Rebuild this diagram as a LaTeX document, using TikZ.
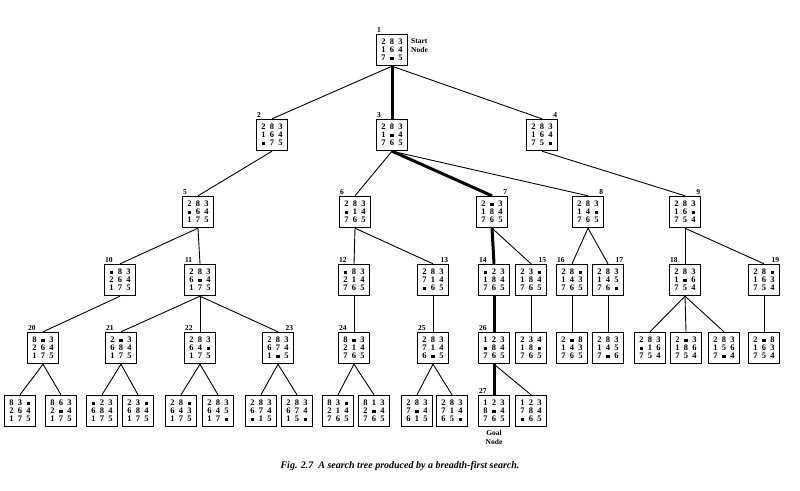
\documentclass[tikz,border=0pt]{standalone}
\usepackage{fontspec}
\setmainfont{Liberation Serif}
\newcommand\bk{\rule[0.5pt]{3.5pt}{3.5pt}}
\newcommand\cl[1]{\makebox[8.5pt]{#1}}
\newcommand\pz[9]{\cl{#1}\cl{#2}\cl{#3}\\[-1pt]\cl{#4}\cl{#5}\cl{#6}\\[-1pt]\cl{#7}\cl{#8}\cl{#9}}
\begin{document}
\begin{tikzpicture}[x=1pt,y=-1pt,
  box/.style={draw,line width=1.4pt,minimum size=31pt,inner sep=0pt,align=center,font=\bfseries\fontsize{8.5}{9}\selectfont},
  lab/.style={font=\bfseries\fontsize{7.5}{9}\selectfont,inner sep=1pt},
  L/.style={label={[lab,anchor=south west]north west:#1}},
  R/.style={label={[lab,anchor=south east]north east:#1}},
  e/.style={line width=0.9pt},
  th/.style={line width=3pt}]
\useasboundingbox (0,0) rectangle (800,490);
\node[box,L=1] (n1) at (392,50) {\pz283164 7\bk5};
\node[lab,anchor=west,align=left] (st) at (410,46) {Start\\Node};
\node[box,L=2] (n2) at (272,135) {\pz283164\bk75};
\node[box,L=3] (n3) at (392,135) {\pz2831\bk4765};
\node[box,R=4] (n4) at (542,135) {\pz28316475\bk};
\node[box,L=5] (n5) at (198,212) {\pz283\bk64175};
\node[box,L=6] (n6) at (355,212) {\pz283\bk14765};
\node[box,R=7] (n7) at (492,212) {\pz2\bk3184765};
\node[box,R=8] (n8) at (588,212) {\pz28314\bk765};
\node[box,R=9] (n9) at (685,212) {\pz28316\bk754};
\node[box,L=10] (n10) at (120,280) {\pz\bk83264175};
\node[box,L=11] (n11) at (200,280) {\pz2836\bk4175};
\node[box,L=12] (n12) at (354,280) {\pz\bk83214765};
\node[box,R=13] (n13) at (433,280) {\pz283714\bk65};
\node[box,L=14] (n14) at (494,280) {\pz\bk23184765};
\node[box,R=15] (n15) at (531,280) {\pz23\bk184765};
\node[box,L=16] (n16) at (572,280) {\pz28\bk143765};
\node[box,R=17] (n17) at (608,280) {\pz28314576\bk};
\node[box,L=18] (n18) at (685,280) {\pz2831\bk6754};
\node[box,R=19] (n19) at (764,280) {\pz28\bk163754};
\node[box,L=20] (n20) at (43,348) {\pz8\bk3264175};
\node[box,L=21] (n21) at (121,348) {\pz2\bk3684175};
\node[box,L=22] (n22) at (200,348) {\pz28364\bk175};
\node[box,R=23] (n23) at (278,348) {\pz2836741\bk5};
\node[box,L=24] (n24) at (354,348) {\pz8\bk3214765};
\node[box,L=25] (n25) at (433,348) {\pz2837146\bk5};
\node[box,L=26] (n26) at (494,348) {\pz123\bk84765};
\node[box] (c15) at (531,348) {\pz23418\bk765};
\node[box] (c16) at (572,348) {\pz2\bk8143765};
\node[box] (c17) at (608,348) {\pz2831457\bk6};
\node[box] (c18a) at (650,348) {\pz283\bk16754};
\node[box] (c18b) at (686,348) {\pz2\bk3186754};
\node[box] (c18c) at (724,348) {\pz2831567\bk4};
\node[box] (c19) at (764,348) {\pz2\bk8163754};
\node[box] (d1) at (20,411) {\pz83\bk264175};
\node[box] (d2) at (61,411) {\pz8632\bk4175};
\node[box] (d3) at (102,411) {\pz\bk23684175};
\node[box] (d4) at (138,411) {\pz23\bk684175};
\node[box] (d5) at (181,411) {\pz28\bk643175};
\node[box] (d6) at (218,411) {\pz28364517\bk};
\node[box] (d7) at (261,411) {\pz283674\bk15};
\node[box] (d8) at (297,411) {\pz28367415\bk};
\node[box] (d9) at (338,411) {\pz83\bk214765};
\node[box] (d10) at (374,411) {\pz8132\bk4765};
\node[box] (d11) at (417,411) {\pz2837\bk4615};
\node[box] (d12) at (452,411) {\pz28371465\bk};
\node[box,L=27] (d13) at (494,411) {\pz1238\bk4765};
\node[box] (d14) at (531,411) {\pz123784\bk65};
\node[lab,align=center,anchor=north] (goal) at (494,429) {Goal\\Node};
\node[font=\bfseries\itshape\fontsize{10}{12}\selectfont] (cap) at (400,466) {Fig. 2.7\ \ A search tree produced by a breadth-first search.};
\draw[e] (n1.south) -- (n2.north);
\draw[th] (n1.south) -- (n3.north);
\draw[e] (n1.south) -- (n4.north);
\draw[e] (n2.south) -- (n5.north);
\draw[e] (n3.south) -- (n6.north);
\draw[th] (n3.south) -- (n7.north);
\draw[e] (n3.south) -- (n8.north);
\draw[e] (n4.south) -- (n9.north);
\draw[e] (n5.south) -- (n10.north);
\draw[e] (n5.south) -- (n11.north);
\draw[e] (n6.south) -- (n12.north);
\draw[e] (n6.south) -- (n13.north);
\draw[th] (n7.south) -- (n14.north);
\draw[e] (n7.south) -- (n15.north);
\draw[e] (n8.south) -- (n16.north);
\draw[e] (n8.south) -- (n17.north);
\draw[e] (n9.south) -- (n18.north);
\draw[e] (n9.south) -- (n19.north);
\draw[e] (n10.south) -- (n20.north);
\draw[e] (n11.south) -- (n21.north);
\draw[e] (n11.south) -- (n22.north);
\draw[e] (n11.south) -- (n23.north);
\draw[e] (n12.south) -- (n24.north);
\draw[e] (n13.south) -- (n25.north);
\draw[th] (n14.south) -- (n26.north);
\draw[e] (n15.south) -- (c15.north);
\draw[e] (n16.south) -- (c16.north);
\draw[e] (n17.south) -- (c17.north);
\draw[e] (n18.south) -- (c18a.north);
\draw[e] (n18.south) -- (c18b.north);
\draw[e] (n18.south) -- (c18c.north);
\draw[e] (n19.south) -- (c19.north);
\draw[e] (n20.south) -- (d1.north);
\draw[e] (n20.south) -- (d2.north);
\draw[e] (n21.south) -- (d3.north);
\draw[e] (n21.south) -- (d4.north);
\draw[e] (n22.south) -- (d5.north);
\draw[e] (n22.south) -- (d6.north);
\draw[e] (n23.south) -- (d7.north);
\draw[e] (n23.south) -- (d8.north);
\draw[e] (n24.south) -- (d9.north);
\draw[e] (n24.south) -- (d10.north);
\draw[e] (n25.south) -- (d11.north);
\draw[e] (n25.south) -- (d12.north);
\draw[th] (n26.south) -- (d13.north);
\draw[e] (n26.south) -- (d14.north);
\end{tikzpicture}
\end{document}
